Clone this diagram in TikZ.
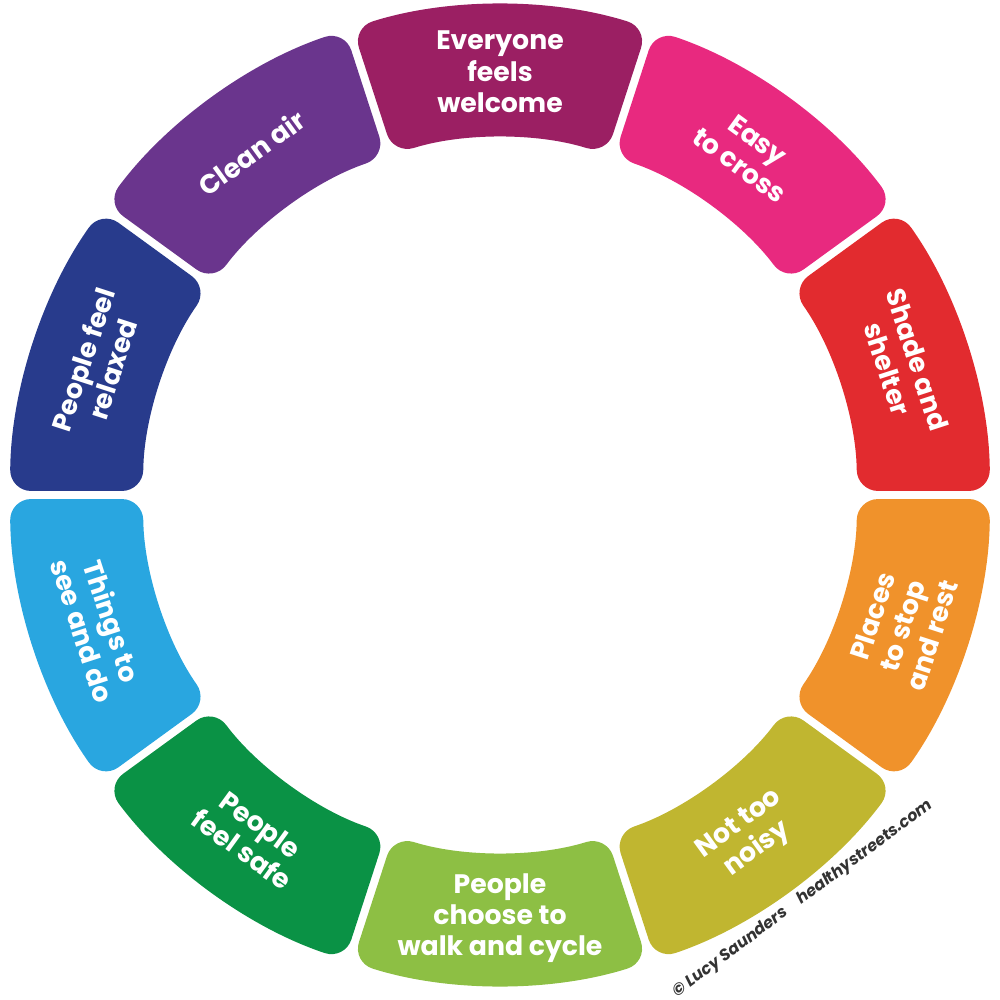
\documentclass[tikz,border=0pt]{standalone}
\usepackage{fontspec}
\setmainfont{Poppins}
\begin{document}
\begin{tikzpicture}[x=0.01cm,y=0.01cm,
  lab/.style={text=white,font=\bfseries\fontsize{7.6}{8.9}\selectfont,align=center,inner sep=0}]
\useasboundingbox (-500,-505) rectangle (500,495);
\def\ro{490}\def\ri{357}
\foreach \a/\c/\t/\r/\n in {
  90/9B1F63/{Everyone\\feels\\welcome}/0/s1,
  54/E8297F/{Easy\\to cross}/-36/s2,
  18/E22B2F/{Shade and\\shelter}/-72/s3,
  -18/F0922B/{Places\\to stop\\and rest}/72/s4,
  -54/C0B630/{Not too\\noisy}/36/s5,
  -90/8DBF44/{People\\choose to\\walk and cycle}/0/s6,
  -126/0A9245/{People\\feel safe}/-36/s7,
  -162/29A6E0/{Things to\\see and do}/-72/s8,
  162/283B8C/{People feel\\relaxed}/72/s9,
  126/6A358D/{Clean air}/36/s10}{
  \definecolor{seg}{HTML}{\c}
  \fill[seg,rounded corners=6]
    ({\a+17.53}:\ro) arc[start angle={\a+17.53},end angle={\a-17.53},radius=\ro]
    -- ({\a-17.35}:\ri) arc[start angle={\a-17.35},end angle={\a+17.35},radius=\ri] -- cycle;
  \node[lab,rotate=\r] (\n) at (\a:423) {\t};
}
\node[rotate=36.7,font=\bfseries\itshape\fontsize{4.6}{5.5}\selectfont,text=black!80] (copy) at (303,-404) {© Lucy Saunders\quad healthystreets.com};
\end{tikzpicture}
\end{document}
